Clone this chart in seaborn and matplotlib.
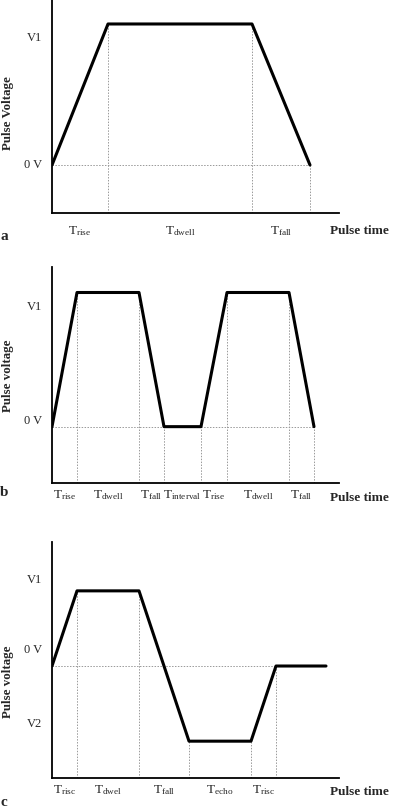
import numpy as np
import matplotlib
matplotlib.use("Agg")
import matplotlib.pyplot as plt
import seaborn as sns

# panel a: single trapezoid pulse
t_a = [0, 5.6, 20.0, 25.8]
v_a = [0, 1, 1, 0]
lab_a = [r"T$_{\mathrm{rise}}$", r"T$_{\mathrm{dwell}}$", r"T$_{\mathrm{fall}}$"]

# panel b: two pulses with interval
t_b = [0, 2.5, 8.7, 11.2, 14.9, 17.5, 23.7, 26.2]
v_b = [0, 1, 1, 0, 0, 1, 1, 0]
lab_b = [r"T$_{\mathrm{rise}}$", r"T$_{\mathrm{dwell}}$", r"T$_{\mathrm{fall}}$",
         r"T$_{\mathrm{interval}}$", r"T$_{\mathrm{rise}}$", r"T$_{\mathrm{dwell}}$",
         r"T$_{\mathrm{fall}}$"]

# panel c: bipolar pulse with echo
t_c = [0, 2.5, 8.7, 13.7, 19.9, 22.4, 27.4]
v_c = [0, 1, 1, -1, -1, 0, 0]
lab_c = [r"T$_{\mathrm{risc}}$", r"T$_{\mathrm{dwel}}$", r"T$_{\mathrm{fall}}$",
         r"T$_{\mathrm{echo}}$", r"T$_{\mathrm{risc}}$"]

sns.set_style("white")
plt.rcParams['font.family'] = ['Liberation Serif', 'DejaVu Serif']
plt.rcParams['mathtext.fontset'] = 'custom'
plt.rcParams['mathtext.rm'] = 'Liberation Serif'
plt.rcParams['mathtext.it'] = 'Liberation Serif:italic'
plt.rcParams['mathtext.bf'] = 'Liberation Serif:bold'

W, H = 393, 810
fig = plt.figure(figsize=(W / 100, H / 100), dpi=100)


def px_axes(top, bottom):
    return fig.add_axes([52 / W, (H - bottom) / H, 287 / W, (bottom - top) / H])


def panel(ax, t, v, labels, ylim, vl_idx, zero_end, levels, ylab, lab_pad,
          pt_y, letter, letter_y, ylab_y):
    t = np.array(t, dtype=float)
    v = np.array(v, dtype=float)
    ax.set_xlim(0, 28.7)
    ax.set_ylim(*ylim)
    ax.hlines(0, 0, zero_end, colors='#999999', lw=0.7, linestyles=(0, (1.5, 1.5)), zorder=1)
    ax.vlines(t[vl_idx], ylim[0], v[vl_idx], colors='#999999', lw=0.7,
              linestyles=(0, (1.5, 1.5)), zorder=1)
    sns.lineplot(x=t, y=v, ax=ax, color='black', lw=2.2, estimator=None,
                 sort=False, zorder=3)
    for s in ['top', 'right']:
        ax.spines[s].set_visible(False)
    for s in ['left', 'bottom']:
        ax.spines[s].set_color('black')
        ax.spines[s].set_linewidth(1.3)
    mids = (t[:-1] + t[1:]) / 2
    ax.set_xticks(mids[:len(labels)], labels, fontsize=9.5)
    ax.tick_params(axis='x', length=0, pad=lab_pad)
    ax.set_yticks([])
    for txt, yv in levels:
        ax.text(-1.0, yv, txt, ha='right', va='center', fontsize=9)
    ax.text(1.07, pt_y, "Pulse time", transform=ax.transAxes, ha='center',
            va='center', fontsize=9.5, fontweight='bold')
    fig.text(4 / W, (H - letter_y) / H, letter, ha='center', va='center',
             fontsize=11, fontweight='bold')
    fig.text(8 / W, (H - ylab_y) / H, ylab, ha='center', va='center',
             rotation=90, fontsize=9.3, fontweight='bold')


ax_a = px_axes(0, 213)
panel(ax_a, t_a, v_a, lab_a, (-0.34, 1.17), [1, 2, 3], 25.8,
      [("V1", 0.9), ("0 V", 0.0)], "Pulse Voltage", 8, -18 / 213, "a", 236, 113)

ax_b = px_axes(267, 483)
panel(ax_b, t_b, v_b, lab_b, (-0.42, 1.19), [1, 2, 3, 4, 5, 6, 7], 26.2,
      [("V1", 0.89), ("0 V", 0.04)], "Pulse voltage", 4, -15 / 216, "b", 493, 376)

ax_c = px_axes(542, 778)
panel(ax_c, t_c, v_c, lab_c, (-1.49, 1.65), [1, 2, 3, 4, 5], 22.4,
      [("V1", 1.15), ("0 V", 0.21), ("V2", -0.77)], "Pulse voltage", 4,
      -14 / 236, "c", 802, 682)

fig.savefig("out.png", dpi=100)
